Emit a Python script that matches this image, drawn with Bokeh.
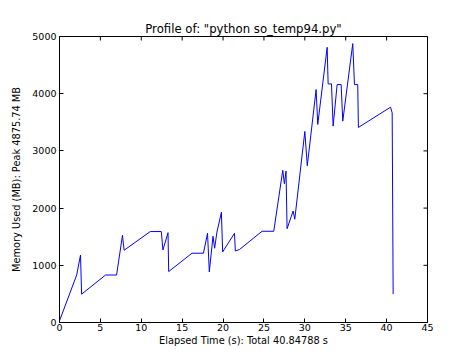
import math
from bokeh.plotting import figure
from bokeh.models import Range1d, FixedTicker
from bokeh.embed import file_html
from bokeh.resources import INLINE

# Data
elapsed_s = [0.0, 2.1, 2.57, 2.7, 5.63, 6.98, 7.7, 7.9, 11.1, 12.45, 12.65, 13.27, 13.35,
             16.2, 17.6, 18.1, 18.32, 18.77, 18.97, 19.25, 19.8, 19.95, 21.4, 21.5, 22.0,
             24.77, 26.2, 27.3, 27.5, 27.7, 27.83, 28.57, 28.77, 30.0, 30.3, 31.38, 31.58,
             32.73, 32.85, 33.26, 33.46, 33.95, 34.44, 34.64, 35.86, 36.07, 36.47, 36.55,
             40.48, 40.68, 40.8]
memory_mb = [30, 830, 1180, 495, 830, 830, 1525, 1263, 1590, 1590, 1268, 1570, 890,
             1211, 1211, 1560, 885, 1508, 1298, 1580, 1927, 1234, 1560, 1251, 1275,
             1595, 1595, 2660, 2426, 2648, 1640, 1949, 1805, 3340, 2740, 4073, 3462,
             4811, 4171, 4171, 3433, 4160, 4160, 3520, 4875.74, 4160, 4160, 3410,
             3764, 3665, 496]
x_ticks = [0, 5, 10, 15, 20, 25, 30, 35, 40, 45]
y_ticks = [0, 1000, 2000, 3000, 4000, 5000]
X_MIN, X_MAX = 0, 45
Y_MIN, Y_MAX = 0, 5000

FONT = "DejaVu Sans"

p = figure(width=474, height=357, output_backend="svg", toolbar_location=None,
           x_range=Range1d(X_MIN, X_MAX), y_range=Range1d(Y_MIN, Y_MAX),
           min_border_left=59, min_border_right=47, min_border_top=36, min_border_bottom=35,
           x_axis_label="Elapsed Time (s): Total 40.84788 s",
           y_axis_label="Memory Used (MB): Peak 4875.74 MB")
p.title.text = 'Profile of: "python so_temp94.py"'
p.title.align = "center"
p.title.text_font = FONT
p.title.text_font_style = "normal"
p.title.text_font_size = "11.7px"
p.title.text_color = "black"
p.title.standoff = 2

p.grid.visible = False
p.outline_line_color = "black"
p.outline_line_alpha = 1
p.background_fill_color = "white"
p.border_fill_color = "white"

p.line(elapsed_s, memory_mb, line_color="#0000ff", line_width=1)

# inward ticks on the top and right edges (clipped to the frame)
p.scatter(x_ticks, [Y_MAX] * len(x_ticks), marker="dash", angle=math.pi / 2, size=8,
          line_color="black", line_width=1)
p.scatter([X_MAX] * len(y_ticks), y_ticks, marker="dash", size=8,
          line_color="black", line_width=1)

def style(ax, ticks):
    ax.ticker = FixedTicker(ticks=ticks)
    ax.major_tick_in = 4
    ax.major_tick_out = 0
    ax.minor_tick_in = 0
    ax.minor_tick_out = 0
    ax.axis_line_color = "black"
    ax.major_tick_line_color = "black"
    ax.major_label_text_font = FONT
    ax.major_label_text_color = "black"
    ax.major_label_text_font_size = "9.5px"
    ax.axis_label_text_font = FONT
    ax.axis_label_text_font_style = "normal"
    ax.axis_label_text_font_size = "9.8px"
    ax.axis_label_text_color = "black"

style(p.xaxis[0], x_ticks)
style(p.yaxis[0], y_ticks)
p.xaxis[0].major_label_standoff = 1
p.xaxis[0].axis_label_standoff = 1
p.yaxis[0].major_label_standoff = 3
p.yaxis[0].axis_label_standoff = 7

open("out.html", "w").write(file_html(p, INLINE))
